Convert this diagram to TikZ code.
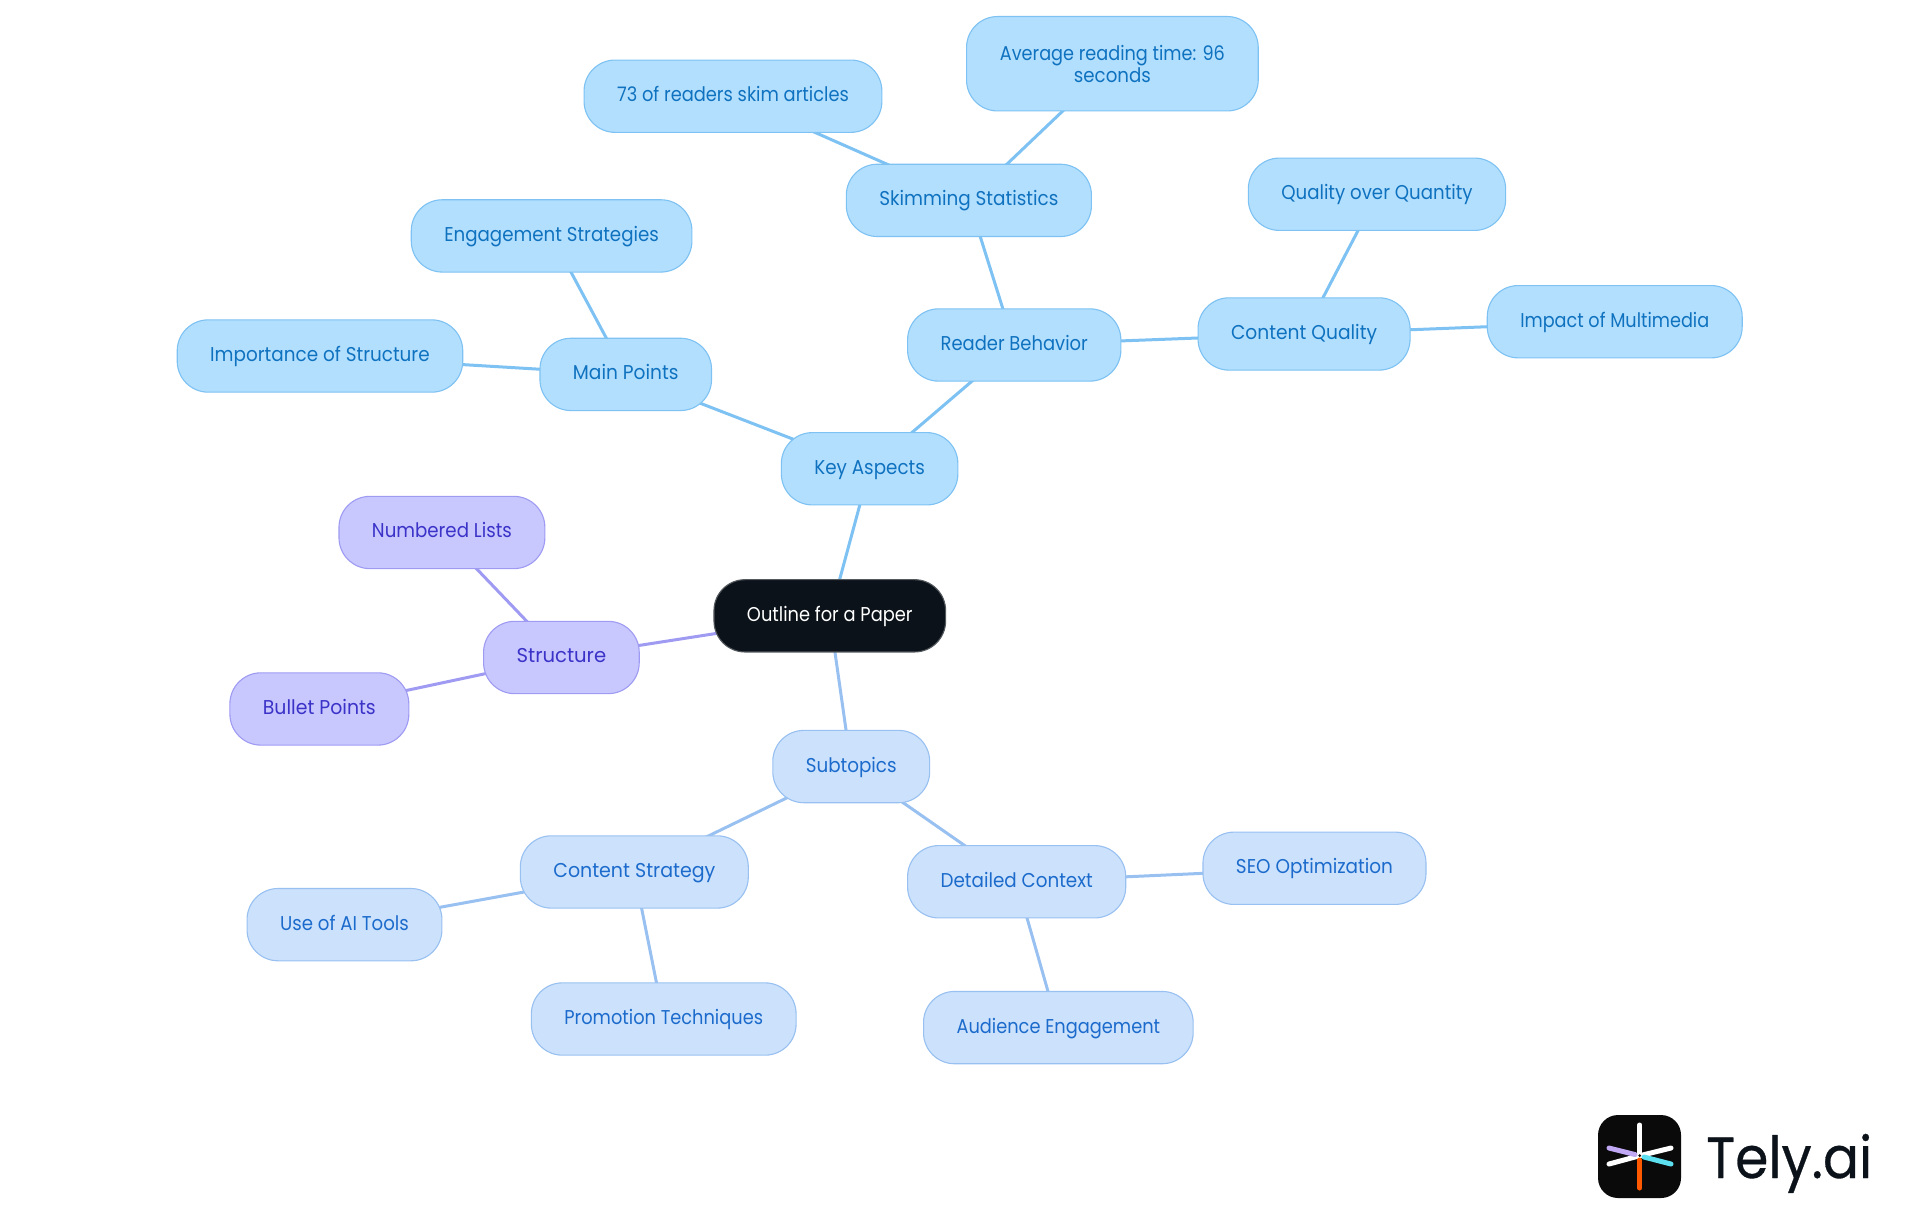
\documentclass[tikz,border=0pt]{standalone}
\usepackage{fontspec}
\usepackage{graphicx}
\setmainfont{Poppins}
\newfontfamily\logofont[FakeBold=0.5]{Poppins}
\usetikzlibrary{backgrounds}
\definecolor{blueF}{HTML}{B3DFFF}
\definecolor{blueS}{HTML}{7DC2F2}
\definecolor{blueT}{HTML}{0F72BF}
\definecolor{paleF}{HTML}{CCE2FC}
\definecolor{paleS}{HTML}{98C0F0}
\definecolor{paleT}{HTML}{1C6BCC}
\definecolor{purpF}{HTML}{C8C8FF}
\definecolor{purpS}{HTML}{9F9BF2}
\definecolor{purpT}{HTML}{3B33C8}
\definecolor{rootF}{HTML}{0B1219}
\tikzset{
  box/.style={rectangle,rounded corners=31pt,draw,line width=1.1pt,inner sep=0pt,
    text height=16pt,text depth=5pt,font=\fontsize{20pt}{23pt}\selectfont},
  rootbox/.style={box,fill=rootF,draw=rootF!70!white,text=white},
  bluebox/.style={box,fill=blueF,draw=blueS,text=blueT},
  palebox/.style={box,fill=paleF,draw=paleS,text=paleT},
  purpbox/.style={box,fill=purpF,draw=purpS,text=purpT},
  bluelink/.style={draw=blueS,line width=3pt},
  palelink/.style={draw=paleS,line width=3pt},
  purplink/.style={draw=purpS,line width=3pt},
  spoke/.style={line width=5pt,line cap=round},
}
\newcommand\mnode[7]{%
  \pgfmathsetmacro\nw{(#4-#3)*1.2255}%
  \pgfmathsetmacro\nh{(#6-#5)*1.2255}%
  \pgfmathsetmacro\nx{(#3+#4)/2-0.4}%
  \pgfmathsetmacro\ny{(#5+#6)/2}%
  \pgfmathsetmacro\tw{\nw-66}%
  \node[#2,minimum width=\nw pt,minimum height=\nh pt] (#1) at (\nx,\ny) {\resizebox{\tw pt}{\height}{#7}};%
}
\begin{document}
\begin{tikzpicture}[x=1.2255pt,y=-1.2255pt]
\useasboundingbox (0,0) rectangle (1566.7,991.4);
\mnode{root}{rootbox}{583}{772}{473}{532}{Outline for a Paper}
\mnode{key}{bluebox}{638}{782}{353}{412}{Key Aspects}
\mnode{main}{bluebox}{441}{581}{276}{335}{Main Points}
\mnode{reader}{bluebox}{741}{915}{252}{311}{Reader Behavior}
\mnode{skim}{bluebox}{691}{891}{134}{193}{Skimming Statistics}
\mnode{seventy}{bluebox}{477}{720}{49}{108}{73 of readers skim articles}
\node[bluebox,minimum width=291.7pt,minimum height=94.4pt,text height=,text depth=,align=center] (avg) at (907.7,52)
  {\raisebox{0pt}{\resizebox{225pt}{\height}{Average reading time: 96}}\\[-1.2pt]\resizebox{77pt}{\height}{seconds}};
\mnode{quality}{bluebox}{978}{1151}{243}{302}{Content Quality}
\mnode{qoq}{bluebox}{1019}{1229}{129}{188}{Quality over Quantity}
\mnode{impact}{bluebox}{1214}{1422}{233}{292}{Impact of Multimedia}
\mnode{engage}{bluebox}{336}{565}{163}{222}{Engagement Strategies}
\mnode{import}{bluebox}{145}{378}{261}{320}{Importance of Structure}
\mnode{struct}{purpbox}{395}{522}{507}{566}{Structure}
\mnode{numbered}{purpbox}{277}{445}{405}{464}{Numbered Lists}
\mnode{bullet}{purpbox}{188}{334}{549}{608}{Bullet Points}
\mnode{sub}{palebox}{631}{759}{596}{655}{Subtopics}
\mnode{strategy}{palebox}{425}{611}{682}{741}{Content Strategy}
\mnode{detail}{palebox}{741}{919}{690}{749}{Detailed Context}
\mnode{ai}{palebox}{202}{361}{725}{784}{Use of AI Tools}
\mnode{promo}{palebox}{434}{650}{802}{861}{Promotion Techniques}
\mnode{audience}{palebox}{754}{974}{809}{868}{Audience Engagement}
\mnode{seo}{palebox}{982}{1164}{679}{738}{SEO Optimization}
\begin{pgfonlayer}{background}
\path[bluelink] (root.center) -- (key.center);
\path[bluelink] (key.center) -- (main.center);
\path[bluelink] (key.center) -- (reader.center);
\path[bluelink] (reader.center) -- (skim.center);
\path[bluelink] (skim.center) -- (seventy.center);
\path[bluelink] (skim.center) -- (avg.center);
\path[bluelink] (reader.center) -- (quality.center);
\path[bluelink] (quality.center) -- (qoq.center);
\path[bluelink] (quality.center) -- (impact.center);
\path[bluelink] (main.center) -- (engage.center);
\path[bluelink] (main.center) -- (import.center);
\path[purplink] (root.center) -- (struct.center);
\path[purplink] (struct.center) -- (numbered.center);
\path[purplink] (struct.center) -- (bullet.center);
\path[palelink] (root.center) -- (sub.center);
\path[palelink] (sub.center) -- (strategy.center);
\path[palelink] (sub.center) -- (detail.center);
\path[palelink] (strategy.center) -- (ai.center);
\path[palelink] (strategy.center) -- (promo.center);
\path[palelink] (detail.center) -- (audience.center);
\path[palelink] (detail.center) -- (seo.center);
\end{pgfonlayer}
% logo
\begin{scope}[x=1pt,y=-1pt]
\fill[black!96!white,rounded corners=20pt] (1598,1115) rectangle (1681,1198);
\coordinate (hub) at (1639.7,1155.7);
\draw[spoke,white] (hub) -- (1639.7,1125);
\draw[spoke,white] (hub) -- (1671,1148);
\draw[spoke,white] (hub) -- (1609,1164);
\draw[spoke,orange!70!red] (1639.7,1160) -- (1639.7,1188);
\draw[spoke,color={rgb,255:red,192;green,168;blue,245}] (1635,1154.5) -- (1609,1148);
\draw[spoke,color={rgb,255:red,92;green,224;blue,240}] (1644,1157) -- (1671,1164);
\fill[black] (hub) circle (1.5pt);
\node[anchor=base west,inner sep=0pt,text=rootF,font=\logofont\fontsize{58pt}{60pt}\selectfont] (logo) at (1706,1178) {\resizebox{166pt}{\height}{Tely.ai}};
\end{scope}
\end{tikzpicture}
\end{document}
